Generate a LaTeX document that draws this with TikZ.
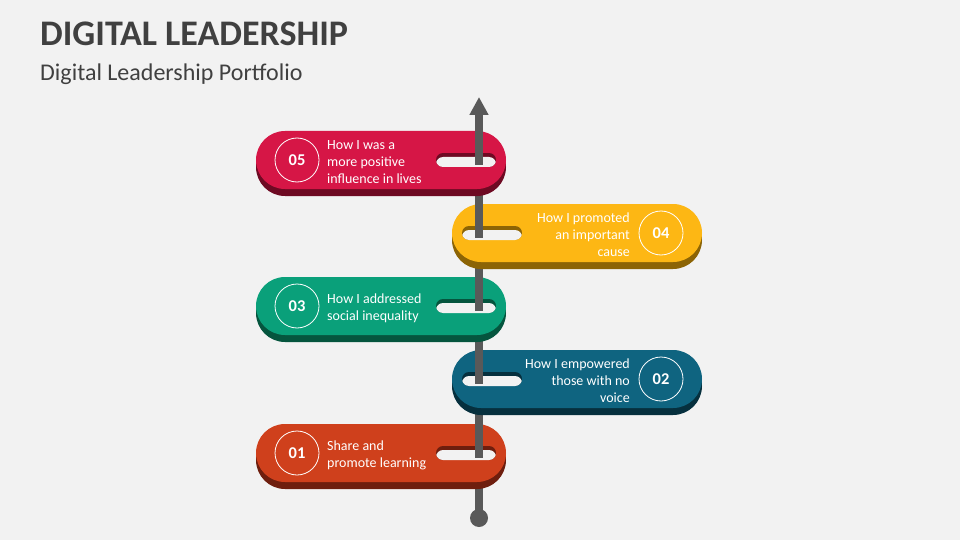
\documentclass[tikz,border=0pt]{standalone}
\usepackage{fontspec}
\setmainfont{Carlito}
\usetikzlibrary{arrows.meta,positioning}
\definecolor{bgcol}{RGB}{242,242,242}
\definecolor{titlecol}{RGB}{64,64,64}
\definecolor{rodcol}{RGB}{89,89,89}
\definecolor{redA}{RGB}{214,22,70}\definecolor{redB}{RGB}{110,10,35}
\definecolor{yelA}{RGB}{253,183,20}\definecolor{yelB}{RGB}{140,100,5}
\definecolor{grnA}{RGB}{10,160,122}\definecolor{grnB}{RGB}{5,85,62}
\definecolor{bluA}{RGB}{15,100,128}\definecolor{bluB}{RGB}{6,48,62}
\definecolor{orgA}{RGB}{207,64,28}\definecolor{orgB}{RGB}{110,30,14}
\tikzset{
  pillbase/.style={%
    rectangle,inner sep=0pt,
    minimum width=250pt,
    minimum height=58pt,
    rounded corners=29pt,
  },
  numcirc/.style={%
    circle,draw=white,line width=0.8pt,
    minimum size=44pt,inner sep=0pt,
    text=white,font=\bfseries\fontsize{16.5}{16.5}\selectfont,
  },
  pilltext/.style={%
    inner sep=0pt,text=white,
    font=\fontsize{14}{17}\selectfont,
  },
  rod/.style={%
    draw=rodcol,line width=8pt,
  },
}

\begin{document}
\begin{tikzpicture}[
    x=1pt,y=-1pt,
    pics/slot/.style 2 args={%
        code = {%
            \begin{scope}
                \clip[rounded corners=7pt] (#1-30,-7) rectangle (#1+30,7);
                \fill[#2] (#1-30,-7) rectangle (#1+30,7);
                \fill[bgcol,rounded corners=7pt] (#1-30,-3) rectangle (#1+30,11);
            \end{scope}
        }
    },
    pics/leftpill/.style n args={4}{%
        code = {%
            \node[pillbase,fill=#2] (-shade) at (0,7) {};
            \node[pillbase,fill=#1] (-face) at (0,0) {};
            \pic {slot={85}{#2}};
            \draw[rod] (98,-29) -- (98,5);
            \node[numcirc] (-num) at (-84,0) {#3};
            \node[pilltext,align=left,anchor=west] (-text) at (-54,2) {#4};
        }
    },
    pics/rightpill/.style n args={4}{%
        code = {%
            \node[pillbase,fill=#2] (-shade) at (0,7) {};
            \node[pillbase,fill=#1] (-face) at (0,0) {};
            \pic {slot={-85}{#2}};
            \draw[rod] (-98,-29) -- (-98,5);
            \node[numcirc] (-num) at (84,0) {#3};
            \node[pilltext,align=right,anchor=east] (-text) at (53,2) {#4};
        }
    }
]
\fill[bgcol] (0,0) rectangle (960,540);
\useasboundingbox (0,0) rectangle (960,540);
% title
\node[anchor=base west,inner sep=0pt,text=titlecol,font=\bfseries\fontsize{36}{36}\selectfont] (title) at (40,46) {DIGITAL LEADERSHIP};
\node[anchor=base west,inner sep=0pt,text=titlecol,font=\fontsize{24}{24}\selectfont] (subtitle) at (40,81) {Digital Leadership Portfolio};
% rod behind
\coordinate (tip) at (479,97);
\node[circle,fill=rodcol,minimum size=18pt,inner sep=0pt] (foot) at (479,518) {};
\draw[rod,-{Triangle[width=18pt,length=18pt]}] (foot.center) -- (tip);
% pills
\pic (P5) at (381,160) {leftpill={redA}{redB}{05}{How I was a\\more positive\\influence in lives}};
\pic (P4) at (577,233) {rightpill={yelA}{yelB}{04}{How I promoted\\an important\\cause}};
\pic (P3) at (381,306) {leftpill={grnA}{grnB}{03}{How I addressed\\social inequality}};
\pic (P2) at (577,379) {rightpill={bluA}{bluB}{02}{How I empowered\\those with no\\voice}};
\pic (P1) at (381,453) {leftpill={orgA}{orgB}{01}{Share and\\promote learning}};
\end{tikzpicture}
\end{document}
